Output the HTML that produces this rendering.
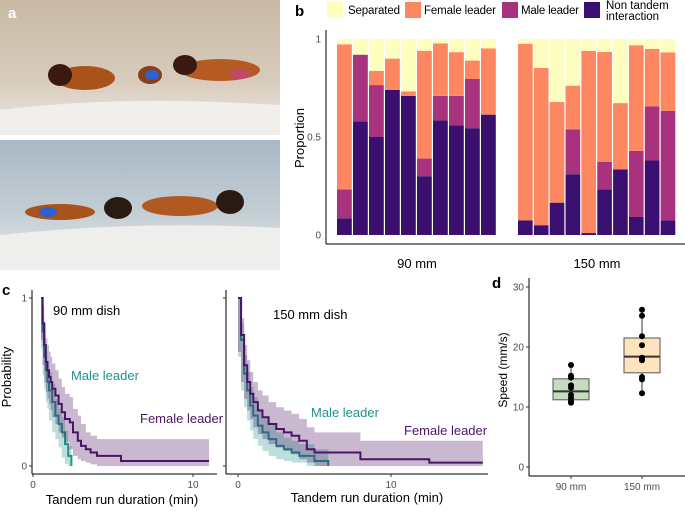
<!DOCTYPE html>
<html><head><meta charset="utf-8"><style>
html,body{margin:0;padding:0;background:#fff;}
svg{display:block;font-family:"Liberation Sans",sans-serif;}
.tick{font-size:10px;fill:#4d4d4d;}
.lab{font-size:13px;fill:#000;}
.leg{font-size:11.5px;fill:#000;}
.pl{font-size:15px;font-weight:bold;fill:#000;}
</style></head><body>
<svg id="fig" width="685" height="511" viewBox="0 0 685 511">
<defs>
<linearGradient id="ph1" x1="0" y1="0" x2="0" y2="1"><stop offset="0" stop-color="#c9b9a6"/><stop offset="0.6" stop-color="#d8cbbb"/><stop offset="1" stop-color="#ecebe6"/></linearGradient>
<linearGradient id="ph2" x1="0" y1="0" x2="0" y2="1"><stop offset="0" stop-color="#a9b8c4"/><stop offset="0.55" stop-color="#c3cdd4"/><stop offset="1" stop-color="#e9ebec"/></linearGradient>
</defs>
<g>
<rect x="0" y="0" width="280" height="135" fill="url(#ph1)"/>
<path d="M0 110 Q120 95 280 105 L280 135 L0 135Z" fill="#f0efec"/>
<ellipse cx="85" cy="78" rx="30" ry="12" fill="#a8521c"/><ellipse cx="60" cy="75" rx="12" ry="11" fill="#3a1a10"/>
<ellipse cx="150" cy="75" rx="12" ry="9" fill="#8a3f18"/>
<ellipse cx="220" cy="70" rx="40" ry="11" fill="#b45a22"/><ellipse cx="185" cy="65" rx="12" ry="10" fill="#3a1a10"/>
<ellipse cx="152" cy="75" rx="7" ry="5" fill="#2c5fd0"/><ellipse cx="240" cy="74" rx="10" ry="5" fill="#c04a6a"/>
<rect x="0" y="140" width="280" height="130" fill="url(#ph2)"/>
<path d="M0 235 Q140 220 280 228 L280 270 L0 270Z" fill="#eeeeec"/>
<ellipse cx="60" cy="212" rx="35" ry="8" fill="#a8521c"/><ellipse cx="48" cy="212" rx="9" ry="5" fill="#2c5fd0"/>
<ellipse cx="118" cy="208" rx="14" ry="11" fill="#2a1a12"/>
<ellipse cx="180" cy="206" rx="38" ry="10" fill="#b05a22"/><ellipse cx="230" cy="202" rx="14" ry="12" fill="#2a1a12"/>
<text x="8" y="18" class="pl" style="fill:#fff">a</text>
</g>

<g id="pb">
<text x="295" y="16" class="pl">b</text>
<g>
<rect x="327" y="2" width="16" height="16" fill="#FCFDBF"/>
<text x="348" y="14" class="leg" textLength="52">Separated</text>
<rect x="405" y="2" width="16" height="16" fill="#FC8761"/>
<text x="424" y="14" class="leg" textLength="72">Female leader</text>
<rect x="502" y="2" width="16" height="16" fill="#A8327D"/>
<text x="521" y="14" class="leg" textLength="58">Male leader</text>
<rect x="584" y="2" width="16" height="16" fill="#3B0F70"/>
<text x="606" y="9" class="leg">Non tandem</text>
<text x="606" y="20" class="leg">interaction</text>
</g>
<line x1="326" y1="30" x2="326" y2="244" stroke="#000" stroke-width="1"/>
<line x1="326" y1="244" x2="685" y2="244" stroke="#000" stroke-width="1"/>
<text transform="translate(304,138) rotate(-90)" text-anchor="middle" class="lab">Proportion</text>
<text x="417" y="268" text-anchor="middle" class="lab">90 mm</text>
<text x="597" y="268" text-anchor="middle" class="lab">150 mm</text>
</g>

<g id="pc">
<text x="2" y="295" class="pl">c</text>
<line x1="32" y1="290" x2="32" y2="474" stroke="#000"/><line x1="32" y1="474" x2="217" y2="474" stroke="#000"/>
<line x1="226" y1="290" x2="226" y2="474" stroke="#000"/><line x1="226" y1="474" x2="488" y2="474" stroke="#000"/>
<text transform="translate(11,377) rotate(-90)" text-anchor="middle" class="lab">Probability</text>
<text x="122" y="504" text-anchor="middle" class="lab">Tandem run duration (min)</text>
<text x="367" y="502" text-anchor="middle" class="lab">Tandem run duration (min)</text>
<text x="53" y="315" class="lab">90 mm dish</text>
<text x="273" y="319" class="lab">150 mm dish</text>
<text x="71" y="380" class="lab" style="fill:#21918C">Male leader</text>
<text x="140" y="423" class="lab" style="fill:#4B1565">Female leader</text>
<text x="311" y="417" class="lab" style="fill:#21918C">Male leader</text>
<text x="404" y="435" class="lab" style="fill:#4B1565">Female leader</text>
</g>

<g id="pd">
<text x="492" y="288" class="pl">d</text>
<line x1="529" y1="278" x2="529" y2="476" stroke="#000"/><line x1="529" y1="476" x2="685" y2="476" stroke="#000"/>
<text transform="translate(507,370) rotate(-90)" text-anchor="middle" class="lab" style="font-size:12px">Speed (mm/s)</text>
</g>
</svg>
<script>
const NS='http://www.w3.org/2000/svg';
function mk(tag,attrs,parent){const e=document.createElementNS(NS,tag);for(const k in attrs)e.setAttribute(k,attrs[k]);parent.appendChild(e);return e;}

// Panel b data
const bGroups=['90 mm','150 mm'];
const bNonTandem90=[0.085,0.58,0.50,0.74,0.71,0.30,0.585,0.56,0.545,0.614];
const bMale90=[0.148,0.34,0.265,0,0,0.09,0.125,0.15,0.251,0];
const bFemale90=[0.74,0,0.072,0.16,0.023,0.55,0.268,0.223,0.094,0.338];
const bNonTandem150=[0.075,0.05,0.165,0.31,0.01,0.233,0.335,0.092,0.38,0.075];
const bMale150=[0,0,0,0.229,0,0.141,0,0.337,0.276,0.558];
const bFemale150=[0.901,0.802,0.514,0.223,0.929,0.56,0.338,0.539,0.293,0.299];
const bTicks=[0,0.5,1];
const bTickLabels=['0','0.5','1'];

const pb=document.getElementById('pb');
const by=v=>235-v*196;
bTicks.forEach((t,i)=>{
 const tx=mk('text',{x:321,y:by(t)+3.5,'text-anchor':'end',class:'tick'},pb);tx.textContent=bTickLabels[i];
 
 
});
function drawGroup(nt,ml,fm,x0,step,g){
 nt.forEach((v,i)=>{
  const x=x0+i*step,w=step-1.2;
  const segs=[[0,nt[i],'#3B0F70','bar-nontandem'],[nt[i],nt[i]+ml[i],'#A8327D','bar-male'],[nt[i]+ml[i],nt[i]+ml[i]+fm[i],'#FC8761','bar-female'],[nt[i]+ml[i]+fm[i],1,'#FCFDBF','bar-separated']];
  segs.forEach(s=>{
   if(s[1]-s[0]<=0)return;
   const r=mk('rect',{x:x,y:by(s[1]),width:w,height:by(s[0])-by(s[1]),fill:s[2]},pb);
   
   
  });
 });
}
drawGroup(bNonTandem90,bMale90,bFemale90,337,16,'90mm');
drawGroup(bNonTandem150,bMale150,bFemale150,518,15.85,'150mm');

// Panel c data
const cFemT90=[0.5,0.6,0.7,0.8,0.9,1.0,1.1,1.2,1.4,1.6,1.8,2.0,2.3,2.5,2.8,3.0,3.3,3.6,4.0,5.5,11];
const cFemS90=[1,0.85,0.72,0.62,0.57,0.53,0.5,0.46,0.42,0.37,0.32,0.28,0.26,0.2,0.15,0.12,0.1,0.08,0.06,0.03,0.03];
const cFemHi90=[1,0.95,0.85,0.76,0.72,0.68,0.65,0.61,0.57,0.52,0.47,0.43,0.41,0.34,0.3,0.25,0.2,0.18,0.16,0.16,0.16];
const cFemLo90=[1,0.75,0.6,0.5,0.44,0.4,0.37,0.33,0.29,0.25,0.2,0.17,0.14,0.1,0.06,0.04,0.03,0.02,0.01,0,0];
const cMalT90=[0.5,0.6,0.7,0.8,0.9,1.0,1.2,1.4,1.6,1.8,2.0,2.2,2.4];
const cMalS90=[1,0.8,0.65,0.57,0.5,0.45,0.38,0.3,0.25,0.2,0.13,0.06,0];
const cMalHi90=[1,0.9,0.76,0.68,0.62,0.56,0.49,0.4,0.34,0.29,0.21,0.12,0.03];
const cMalLo90=[1,0.7,0.54,0.46,0.38,0.34,0.27,0.2,0.16,0.11,0.05,0.01,0];
const cFemT150=[0,0.2,0.4,0.6,0.8,1.0,1.3,1.6,2,2.5,3,3.5,4,4.5,5,8,12.5,16];
const cFemS150=[1,0.78,0.6,0.5,0.43,0.38,0.33,0.29,0.25,0.22,0.2,0.18,0.15,0.1,0.08,0.04,0.02,0.02];
const cFemHi150=[1,0.88,0.72,0.63,0.56,0.5,0.45,0.42,0.38,0.35,0.33,0.31,0.28,0.23,0.2,0.15,0.15,0.15];
const cFemLo150=[1,0.68,0.5,0.4,0.33,0.28,0.23,0.19,0.16,0.13,0.11,0.09,0.07,0.04,0.02,0,0,0];
const cMalT150=[0,0.2,0.4,0.6,0.8,1.0,1.3,1.6,2,2.5,3,3.5,4,4.5,5,5.9];
const cMalS150=[1,0.75,0.55,0.45,0.36,0.3,0.24,0.2,0.16,0.12,0.1,0.08,0.06,0.06,0.03,0];
const cMalHi150=[1,0.85,0.66,0.56,0.47,0.41,0.34,0.29,0.25,0.2,0.17,0.15,0.13,0.13,0.1,0.1];
const cMalLo150=[1,0.65,0.45,0.35,0.27,0.21,0.16,0.12,0.09,0.06,0.04,0.03,0.02,0.02,0,0];
const cXTicks=[0,10];
const cYTicks=[0,1];

const pc=document.getElementById('pc');
const cy=v=>466-v*168;
const cxL=t=>33+t*16, cxR=t=>238+t*15.3;
function stepPath(T,S,fx){let d='M'+fx(T[0])+' '+cy(S[0]);for(let i=1;i<T.length;i++){d+=' H'+fx(T[i])+' V'+cy(S[i]);}return d;}
function band(T,H,L,fx){let d='M'+fx(T[0])+' '+cy(H[0]);for(let i=1;i<T.length;i++)d+=' H'+fx(T[i])+' V'+cy(H[i]);for(let i=T.length-1;i>0;i--)d+=' V'+cy(L[i])+' H'+fx(T[i-1]);d+=' V'+cy(L[0])+'Z';return d;}
function km(T,S,H,L,fx,col,name){
 const b=mk('path',{d:band(T,H,L,fx),fill:col,'fill-opacity':0.3},pc);
 
 
 const p=mk('path',{d:stepPath(T,S,fx),fill:'none',stroke:col,'stroke-width':2},pc);
 
 
}
km(cMalT90,cMalS90,cMalHi90,cMalLo90,cxL,'#21918C','male-90mm');
km(cFemT90,cFemS90,cFemHi90,cFemLo90,cxL,'#4B1565','female-90mm');
km(cMalT150,cMalS150,cMalHi150,cMalLo150,cxR,'#21918C','male-150mm');
km(cFemT150,cFemS150,cFemHi150,cFemLo150,cxR,'#4B1565','female-150mm');
[[cxL,32],[cxR,226]].forEach(([fx,ax])=>{
 cXTicks.forEach(t=>{mk('line',{x1:fx(t),x2:fx(t),y1:474,y2:477,stroke:'#333'},pc);
  const tx=mk('text',{x:fx(t),y:488,'text-anchor':'middle',class:'tick'},pc);tx.textContent=t;
  
  });
 cYTicks.forEach(t=>{mk('line',{x1:ax-3,x2:ax,y1:cy(t),y2:cy(t),stroke:'#333'},pc);
  if(ax===32){const tx=mk('text',{x:27,y:cy(t)+3.5,'text-anchor':'end',class:'tick'},pc);tx.textContent=t;
  
  }});
});

// Panel d data
const dCats=['90 mm','150 mm'];
const dQ1=[11.2,15.7];
const dMed=[12.6,18.4];
const dQ3=[14.7,21.5];
const dWLo=[10.5,12.3];
const dWHi=[17,26.2];
const dPts90=[17,15.2,14.9,13.6,13.2,12,11.5,11,10.7];
const dPts150=[26.2,25.2,21.8,20.3,18.2,18,17.8,15,14.6,12.3];
const dTicks=[0,10,20,30];
const dFill=['#C5DCC0','#FDE4BF'];

const pd=document.getElementById('pd');
const dy=v=>467-v*6;
const dx=i=>571+i*71;
dTicks.forEach(t=>{mk('line',{x1:526,x2:529,y1:dy(t),y2:dy(t),stroke:'#333'},pd);
 const tx=mk('text',{x:524,y:dy(t)+3.5,'text-anchor':'end',class:'tick'},pd);tx.textContent=t;
 
 });
dCats.forEach((c,i)=>{
 const x=dx(i);
 mk('line',{x1:x,x2:x,y1:dy(dWLo[i]),y2:dy(dWHi[i]),stroke:'#333','stroke-width':1},pd);
 const r=mk('rect',{x:x-18,y:dy(dQ3[i]),width:36,height:dy(dQ1[i])-dy(dQ3[i]),fill:dFill[i],stroke:'#555','stroke-width':1},pd);
 
 
 mk('line',{x1:x-18,x2:x+18,y1:dy(dMed[i]),y2:dy(dMed[i]),stroke:'#333','stroke-width':2},pd);
 (i===0?dPts90:dPts150).forEach(v=>{const p=mk('circle',{cx:x,cy:dy(v),r:3,fill:'#000'},pd);
  
  });
 mk('line',{x1:x,x2:x,y1:476,y2:479,stroke:'#333'},pd);
 const tx=mk('text',{x:x,y:490,'text-anchor':'middle',class:'tick'},pd);tx.textContent=c;
 
 
});
</script>
</body></html>
